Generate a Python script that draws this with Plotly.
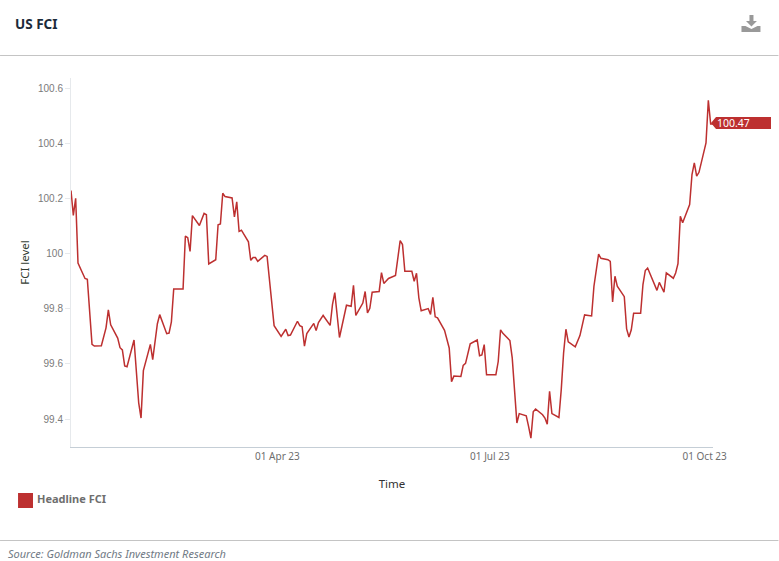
import pandas as pd
import plotly.graph_objects as go

# Observation days, counted from the first date of the series
START_DATE = "2023-01-03"
day_offsets = [
    0, 1, 2, 3, 6, 7, 9, 10, 13, 15, 16, 17, 20, 21, 22, 23, 24, 27, 29, 30, 31, 34, 35, 37, 38,
    41, 42, 43, 44, 45, 48, 49, 50, 51, 52, 55, 57, 58, 59, 62, 63, 64, 65, 66, 69, 70, 71, 72, 73,
    76, 77, 78, 79, 80, 83, 84, 87, 90, 92, 93, 94, 97, 98, 99, 100, 101, 104, 105, 106, 108,
    111, 112, 113, 115, 118, 120, 121, 122, 125, 126, 127, 128, 129, 132, 133, 134, 136, 139, 141,
    142, 143, 146, 147, 148, 149, 150, 153, 154, 155, 156, 157, 160, 161, 162, 163, 164, 167, 168,
    169, 170, 171, 174, 175, 176, 177, 178, 181, 182, 183, 184, 185, 188, 189, 190, 191, 192, 195,
    196, 197, 198, 199, 202, 203, 204, 205, 206, 209, 210, 211, 212, 213, 216, 217, 218, 220, 223,
    224, 225, 226, 227, 230, 231, 232, 233, 234, 237, 238, 239, 240, 241, 244, 245, 246, 247, 251,
    252, 254, 255, 258, 259, 260, 261, 262, 265, 266, 267, 268, 269, 272, 273, 274, 275,
]
fci_level = [
    100.229, 100.139, 100.201, 99.966, 99.91, 99.907, 99.671, 99.665, 99.666, 99.731, 99.796, 99.742,
    99.694, 99.659, 99.651, 99.593, 99.59, 99.687, 99.459, 99.404, 99.576, 99.671, 99.616, 99.746, 99.779,
    99.71, 99.712, 99.753, 99.872, 99.872, 99.872, 100.064, 100.058, 100.008, 100.138, 100.102, 100.146,
    100.141, 99.963, 99.978, 100.105, 100.108, 100.219, 100.207, 100.202, 100.133, 100.188, 100.081, 100.085,
    100.043, 99.976, 99.986, 99.986, 99.972, 99.994, 99.99, 99.739, 99.70, 99.726, 99.703, 99.705,
    99.755, 99.739, 99.735, 99.665, 99.71, 99.747, 99.721, 99.75, 99.776,
    99.74, 99.815, 99.859, 99.696, 99.813, 99.809, 99.885, 99.776, 99.821, 99.863, 99.785, 99.802, 99.86,
    99.863, 99.931, 99.892, 99.91, 99.921, 100.047,
    100.033, 99.936, 99.936, 99.90, 99.929, 99.84, 99.793, 99.801, 99.78, 99.842, 99.771, 99.767,
    99.722, 99.694, 99.658, 99.536, 99.556, 99.555, 99.595,
    99.602, 99.634, 99.673, 99.687, 99.63, 99.633, 99.67, 99.561, 99.561, 99.561, 99.609, 99.724, 99.711,
    99.685, 99.622, 99.482, 99.386, 99.42, 99.412,
    99.374, 99.331, 99.427, 99.437, 99.416, 99.404, 99.382, 99.501, 99.42, 99.406, 99.507, 99.64, 99.726, 99.68,
    99.662, 99.682, 99.703, 99.778, 99.774,
    99.882, 99.942, 99.998, 99.983, 99.978, 99.972, 99.825, 99.918, 99.882, 99.844, 99.727, 99.698, 99.724, 99.784,
    99.784, 99.888, 99.939, 99.948, 99.867,
    99.896, 99.86, 99.93, 99.911, 99.93, 99.964, 100.136, 100.112, 100.178, 100.287, 100.329, 100.281, 100.295,
    100.402, 100.556, 100.47, 100.47,
]
y_ticks = [99.4, 99.6, 99.8, 100, 100.2, 100.4, 100.6]
y_tick_labels = ["99.4", "99.6", "99.8", "100", "100.2", "100.4", "100.6"]
x_ticks = ["2023-04-01", "2023-07-01", "2023-10-01"]
x_tick_labels = ["01 Apr 23", "01 Jul 23", "01 Oct 23"]

WIDTH, HEIGHT = 779, 561
LEFT, RIGHT, TOP, BOTTOM = 71, 713.5, 78, 447
RED = "#bd3030"
LABEL_FONT = "Noto Sans"


def page_x(px):
    return (px - LEFT) / (RIGHT - LEFT)


def page_y(py):
    return (BOTTOM - py) / (BOTTOM - TOP)


def page_path(points):
    return "M " + " L ".join(f"{page_x(x):.5f},{page_y(y):.5f}" for x, y in points) + " Z"


dates = pd.Timestamp(START_DATE) + pd.to_timedelta(day_offsets, unit="D")

fig = go.Figure(
    go.Scatter(
        x=dates,
        y=fci_level,
        mode="lines",
        line=dict(color=RED, width=1.5),
        name="Headline FCI",
        showlegend=False,
        cliponaxis=False,
    )
)

rule = dict(type="line", xref="paper", yref="paper", line=dict(color="#c4c4c4", width=1))
arrow = [(750, 15), (754, 15), (754, 21), (757.5, 21), (752, 26.5), (746.5, 21), (750, 21)]
tray = [(742, 32), (742, 26), (746, 26), (752, 29), (758, 26), (761, 26), (761, 32)]

fig.update_layout(
    width=WIDTH,
    height=HEIGHT,
    autosize=False,
    margin=dict(l=LEFT, r=WIDTH - RIGHT, t=TOP, b=HEIGHT - BOTTOM),
    paper_bgcolor="white",
    plot_bgcolor="white",
    xaxis=dict(
        range=[dates[0], dates[-1]],
        tickvals=x_ticks,
        ticktext=x_tick_labels,
        tickfont=dict(family=LABEL_FONT, size=10, color="#6e6e6e"),
        ticklabelshift=1,
        ticks="",
        showgrid=False,
        zeroline=False,
        showline=True,
        linecolor="#c5ced6",
        linewidth=1,
        title=dict(text="Time", font=dict(family=LABEL_FONT, size=11.5, color="#333333"), standoff=17),
    ),
    yaxis=dict(
        range=[99.299, 100.637],
        tickvals=y_ticks,
        ticktext=y_tick_labels,
        tickfont=dict(family="Liberation Sans", size=10, color="#7a7a7a"),
        ticks="outside",
        ticklen=5,
        tickcolor="#e6e9ec",
        showgrid=False,
        zeroline=False,
        showline=True,
        linecolor="#e6e9ec",
        linewidth=1,
        title=dict(text="FCI level", font=dict(family=LABEL_FONT, size=11.5, color="#333d33"), standoff=5),
    ),
    shapes=[
        dict(rule, x0=-LEFT / (RIGHT - LEFT), x1=page_x(WIDTH), y0=page_y(55.5), y1=page_y(55.5)),
        dict(rule, x0=-LEFT / (RIGHT - LEFT), x1=page_x(WIDTH), y0=page_y(540.5), y1=page_y(540.5)),
        # Legend swatch
        dict(type="rect", xref="paper", yref="paper", x0=page_x(18), x1=page_x(33),
             y0=page_y(508), y1=page_y(493), fillcolor=RED, line_width=0),
        # Download icon
        dict(type="path", xref="paper", yref="paper", path=page_path(arrow), fillcolor="#999999", line_width=0),
        dict(type="path", xref="paper", yref="paper", path=page_path(tray), fillcolor="#999999", line_width=0),
        # Last-value flag anchored to the final observation
        dict(type="path", xref="paper", yref="y", xsizemode="pixel", ysizemode="pixel",
             xanchor=1, yanchor=fci_level[-1],
             path="M -2 1 L 3 -5 L 58 -5 L 58 7 L 3 7 Z", fillcolor=RED, line_width=0),
    ],
    annotations=[
        dict(text="<b>US FCI</b>", xref="paper", yref="paper", x=page_x(13), y=page_y(24),
             xanchor="left", yanchor="middle", showarrow=False,
             font=dict(family=LABEL_FONT, size=13.5, color="#1c2b3a")),
        dict(text="<b>Headline FCI</b>", xref="paper", yref="paper", x=page_x(35), y=page_y(499),
             xanchor="left", yanchor="middle", showarrow=False,
             font=dict(family=LABEL_FONT, size=11, color="#6e6e6e")),
        dict(text="<i>Source: Goldman Sachs Investment Research</i>", xref="paper", yref="paper",
             x=page_x(6), y=page_y(553), xanchor="left", yanchor="middle", showarrow=False,
             font=dict(family=LABEL_FONT, size=11, color="#707a85")),
        dict(text=f"{fci_level[-1]:.2f}", xref="paper", yref="y", x=page_x(716), y=fci_level[-1],
             yshift=1, xanchor="left", yanchor="middle", showarrow=False,
             font=dict(family=LABEL_FONT, size=10.5, color="white")),
    ],
)

fig.write_html("out.html", config=dict(displayModeBar=False))
